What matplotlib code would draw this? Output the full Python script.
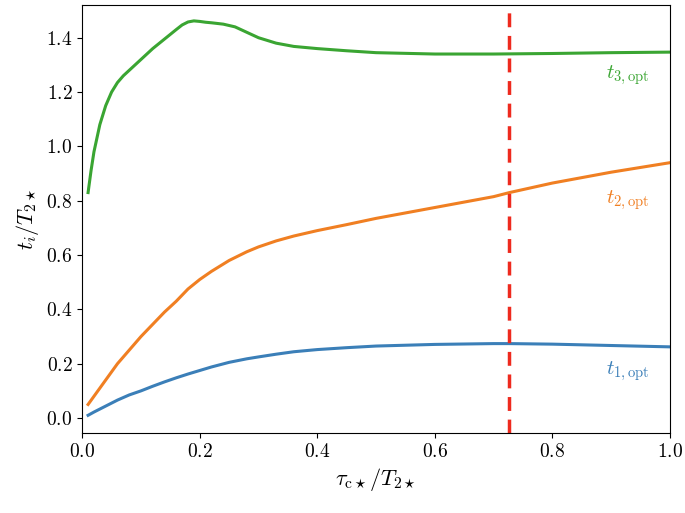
import matplotlib
matplotlib.use("Agg")
import matplotlib.pyplot as plt
from matplotlib.ticker import FuncFormatter

plt.rcParams['mathtext.fontset'] = 'cm'
plt.rcParams['font.family'] = 'serif'
plt.rcParams['font.serif'] = ['DejaVu Serif']

x_green = [0.01, 0.015, 0.02, 0.03, 0.04, 0.05, 0.06, 0.07, 0.08, 0.09, 0.10, 0.12, 0.14, 0.16, 0.17, 0.18, 0.19, 0.20, 0.21, 0.22, 0.24, 0.26, 0.28, 0.30, 0.33, 0.36, 0.40, 0.45, 0.50, 0.60, 0.70, 0.80, 0.90, 1.00]
t3 = [0.83, 0.91, 0.98, 1.08, 1.15, 1.20, 1.235, 1.26, 1.28, 1.30, 1.32, 1.36, 1.395, 1.43, 1.447, 1.458, 1.462, 1.46, 1.457, 1.455, 1.45, 1.44, 1.42, 1.40, 1.38, 1.368, 1.36, 1.352, 1.345, 1.34, 1.34, 1.342, 1.345, 1.347]
x_c = [0.01, 0.02, 0.03, 0.04, 0.05, 0.06, 0.08, 0.10, 0.12, 0.14, 0.16, 0.18, 0.20, 0.22, 0.25, 0.28, 0.30, 0.33, 0.36, 0.40, 0.45, 0.50, 0.60, 0.70, 0.727, 0.80, 0.90, 1.00]
t2 = [0.05, 0.08, 0.11, 0.14, 0.17, 0.20, 0.25, 0.30, 0.345, 0.39, 0.43, 0.475, 0.51, 0.54, 0.58, 0.612, 0.63, 0.652, 0.67, 0.69, 0.712, 0.735, 0.775, 0.815, 0.83, 0.865, 0.905, 0.94]
t1 = [0.01, 0.022, 0.033, 0.044, 0.055, 0.066, 0.085, 0.10, 0.117, 0.133, 0.148, 0.162, 0.175, 0.188, 0.205, 0.218, 0.225, 0.235, 0.244, 0.252, 0.259, 0.265, 0.271, 0.274, 0.274, 0.272, 0.267, 0.262]
tau_star = 0.727

fig = plt.figure(figsize=(6.85, 5.13), dpi=100)
ax = fig.add_axes([0.12, 0.156, 0.858, 0.834])
ax.plot(x_c, t1, color='#3b7fb8', lw=2.2)
ax.plot(x_c, t2, color='#f07f22', lw=2.2)
ax.plot(x_green, t3, color='#3aa532', lw=2.2)
ax.axvline(tau_star, color='#ee2a1e', lw=2.5, ls=(0, (4, 2.5)))
ax.text(0.965, 1.25, r'$t_{3,\mathrm{opt}}$', color='#3aa532', fontsize=15, ha='right')
ax.text(0.965, 0.79, r'$t_{2,\mathrm{opt}}$', color='#f07f22', fontsize=15, ha='right')
ax.text(0.965, 0.16, r'$t_{1,\mathrm{opt}}$', color='#3b7fb8', fontsize=15, ha='right')
ax.set_xlim(0, 1)
ax.set_ylim(-0.055, 1.52)
ax.set_xticks([0, 0.2, 0.4, 0.6, 0.8, 1.0])
ax.set_yticks([0, 0.2, 0.4, 0.6, 0.8, 1.0, 1.2, 1.4])
fmt = FuncFormatter(lambda v, p: r'$%.1f$' % v)
ax.xaxis.set_major_formatter(fmt)
ax.yaxis.set_major_formatter(fmt)
ax.tick_params(labelsize=14)
ax.set_xlabel(r'$\tau_{\mathrm{c}\star}/T_{2\star}$', fontsize=16)
ax.set_ylabel(r'$t_i/T_{2\star}$', fontsize=16)
fig.savefig('out.png', dpi=100)
